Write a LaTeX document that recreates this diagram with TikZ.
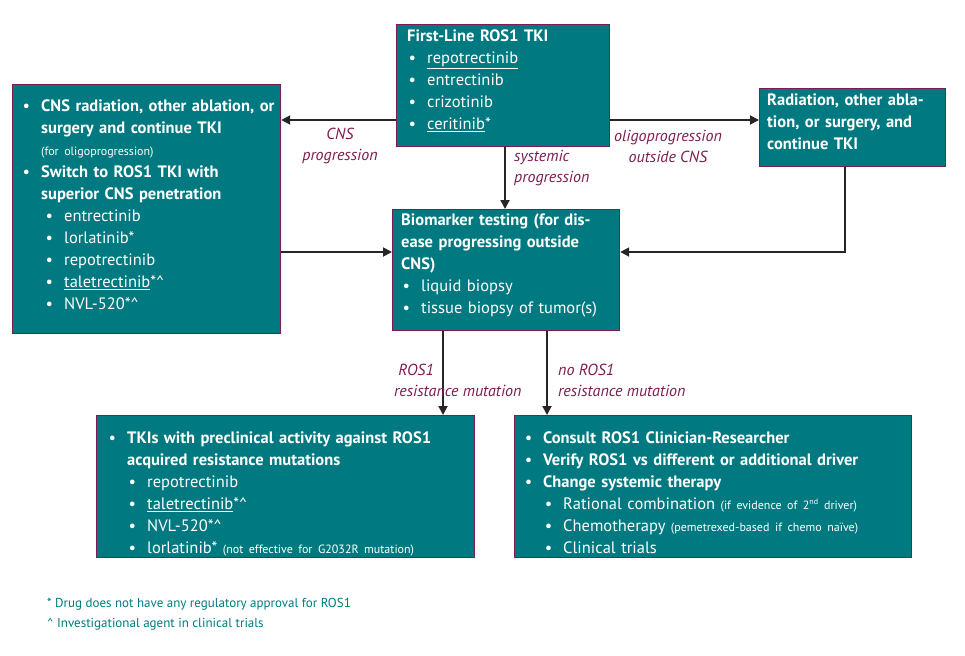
\documentclass[tikz,border=0pt]{standalone}
\usepackage{fontspec}
\setmainfont{PT Sans}
\usetikzlibrary{arrows.meta}
\definecolor{teal1}{RGB}{0,122,128}
\definecolor{maroon1}{RGB}{125,28,80}
\newenvironment{blist}[1]{\begin{list}{\textbullet}{\setlength\leftmargin{#1}\setlength\labelsep{11pt}\setlength\itemsep{0pt}\setlength\topsep{0pt}\setlength\parsep{0pt}\setlength\partopsep{0pt}}}{\end{list}}
\newcommand\sm[1]{{\fontsize{12}{15}\selectfont #1}}
\begin{document}
\begin{tikzpicture}[x=1pt,y=-1pt,
  box/.style={draw=maroon1,line width=1.2pt,fill=teal1,anchor=north west,inner sep=0pt},
  txt/.style={anchor=north west,text=white,align=left,inner sep=0pt,font=\fontsize{16.5}{22}\selectfont},
  lab/.style={text=maroon1,font=\fontsize{16}{21}\selectfont\itshape,align=center,inner sep=0pt},
  arr/.style={-{Triangle[length=9pt,width=9pt]},line width=1.8pt,draw=black!85}]
\useasboundingbox (0,0) rectangle (965,655);
\node[box,minimum width=213,minimum height=122] (fl) at (396,24) {};
\node[box,minimum width=268,minimum height=249] (lb) at (12,84) {};
\node[box,minimum width=186,minimum height=78] (rb) at (759,88) {};
\node[box,minimum width=227,minimum height=121] (bm) at (392,209) {};
\node[box,minimum width=378,minimum height=142] (bl) at (96,415) {};
\node[box,minimum width=397,minimum height=142] (br) at (514,415) {};

\node[txt,text width=200] (flt) at (407,30) {\textbf{First-Line ROS1 TKI}\\[-2pt]
\begin{blist}{20pt}\item \underline{repotrectinib}\item entrectinib\item crizotinib\item \underline{ceritinib}*\end{blist}};

\node[txt,text width=260] (lbt) at (20,89) {\begin{blist}{21pt}
\item \textbf{CNS radiation, other ablation, or surgery and continue TKI}\\ \sm{(for oligoprogression)}
\item \textbf{Switch to ROS1 TKI with superior CNS penetration}
\begin{blist}{23pt}\item entrectinib\item lorlatinib*\item repotrectinib\item \underline{taletrectinib}*\textasciicircum\item NVL-520*\textasciicircum\end{blist}
\end{blist}};

\node[txt,text width=180] (rbt) at (767,94) {\textbf{Radiation, other ablation, or surgery, and continue TKI}};

\node[txt,text width=215] (bmt) at (401,214) {\textbf{Biomarker testing (for disease progressing outside CNS)}\\[-2pt]
\begin{blist}{20pt}\item liquid biopsy\item tissue biopsy of tumor(s)\end{blist}};

\node[txt,text width=370] (blt) at (107,421) {\begin{blist}{20pt}
\item \textbf{TKIs with preclinical activity against ROS1 acquired resistance mutations}
\begin{blist}{20pt}\item repotrectinib\item \underline{taletrectinib}*\textasciicircum\item NVL-520*\textasciicircum\item lorlatinib* \sm{(not effective for G2032R mutation)}\end{blist}
\end{blist}};

\node[txt,text width=390] (brt) at (523,421) {\begin{blist}{20pt}
\item \textbf{Consult ROS1 Clinician-Researcher}
\item \textbf{Verify ROS1 vs different or additional driver}
\item \textbf{Change systemic therapy}
\begin{blist}{20pt}\item Rational combination \sm{(if evidence of 2\textsuperscript{nd} driver)}\item Chemotherapy \sm{(pemetrexed-based if chemo naïve)}\item Clinical trials\end{blist}
\end{blist}};

\draw[arr] (fl.west |- 0,120) -- (lb.east |- 0,120);
\draw[arr] (fl.east |- 0,120) -- (rb.west |- 0,120);
\draw[arr] (fl.south -| 505,0) -- (bm.north -| 505,0);
\draw[arr] (lb.east |- 0,252) -- (bm.west |- 0,252);
\draw[arr] (rb.south -| 845,0) -- (845,252) -- (bm.east |- 0,252);
\draw[arr] (bm.south -| 443,0) -- (bl.north -| 443,0);
\draw[arr] (bm.south -| 547,0) -- (br.north -| 547,0);

\node[lab] (l1) at (340,146) {CNS\\progression};
\node[lab] (l2) at (668,146) {oligoprogression\\outside CNS};
\node[lab,align=left,anchor=west] (l3) at (514,168) {systemic\\progression};
\node[lab,align=left,anchor=west] (l4) at (394,380) {\ ROS1\\resistance mutation};
\node[lab,align=left,anchor=west] (l5) at (558,380) {no ROS1\\resistance mutation};

\node[anchor=north west,text=teal1,align=left,inner sep=0pt,font=\fontsize{13}{20}\selectfont] (fn) at (47,598) {* Drug does not have any regulatory approval for ROS1\\\textasciicircum\ Investigational agent in clinical trials};
\end{tikzpicture}
\end{document}
